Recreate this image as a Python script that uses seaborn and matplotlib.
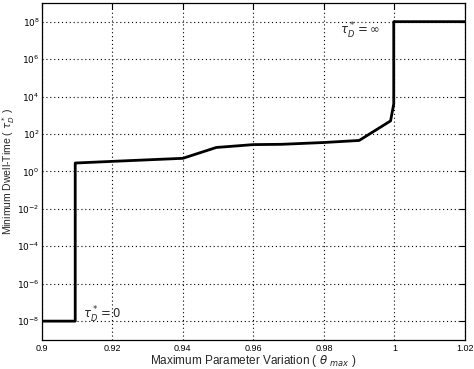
import matplotlib
matplotlib.use("Agg")
import matplotlib.pyplot as plt
import seaborn as sns
import numpy as np
import pandas as pd
from matplotlib.ticker import FixedLocator, NullLocator, FuncFormatter

theta_max = [0.9, 0.9095, 0.9095, 0.921, 0.94, 0.9495, 0.96, 0.968, 0.98, 0.99, 0.9989, 0.9998, 0.9998, 1.02]
min_dwell = [1e-8, 1e-8, 2.8, 3.5, 5.0, 19.0, 27.0, 28.0, 35.0, 45.0, 500.0, 4000.0, 1e8, 1e8]
x_ticks = [0.9, 0.92, 0.94, 0.96, 0.98, 1.0, 1.02]
x_tick_labels = ["0.9", "0.92", "0.94", "0.96", "0.98", "1", "1.02"]
y_exponents = [-8, -6, -4, -2, 0, 2, 4, 6, 8]

sns.set_theme(style="white")
plt.rcParams['font.family'] = ['Liberation Sans', 'DejaVu Sans']
plt.rcParams['mathtext.fontset'] = 'dejavusans'

df = pd.DataFrame({"theta": theta_max, "tau": min_dwell})

fig = plt.figure(figsize=(4.74, 3.69), dpi=100)
ax = fig.add_axes([0.088, 0.079, 0.893, 0.913])
sns.lineplot(data=df, x="theta", y="tau", sort=False, estimator=None,
             color="black", linewidth=2.0, ax=ax)
ax.set_yscale("log")
ax.set_xlim(0.9, 1.02)
ax.set_ylim(10**-9, 10**9)

ax.xaxis.set_major_locator(FixedLocator(x_ticks))
ax.set_xticklabels(x_tick_labels)
ax.yaxis.set_major_locator(FixedLocator([10.0**e for e in y_exponents]))
ax.yaxis.set_minor_locator(NullLocator())
ax.yaxis.set_major_formatter(FuncFormatter(lambda v, p: r"$10^{%d}$" % int(round(np.log10(v)))))

ax.grid(True, which="major", linestyle=(0, (1, 2.5)), color="black", linewidth=0.8)
for s in ax.spines.values():
    s.set_color("black")
    s.set_linewidth(0.9)
ax.tick_params(axis="both", direction="in", top=True, right=True, length=4, width=0.8,
               labelsize=6.5, colors="black")
ax.tick_params(axis="x", pad=3)
ax.tick_params(axis="y", pad=1.5)

ax.set_xlabel(r"Maximum Parameter Variation ( $\theta$ $_{max}$ )", fontsize=8.5, labelpad=0)
ax.set_ylabel(r"Minimum Dwell-Time ( $\tau^*_D$ )", fontsize=7.5)
ax.yaxis.set_label_coords(-0.058, 0.5)

ax.text(0.9845, 10**7.3, r"$\tau^*_D = \infty$", fontsize=8.5)
ax.text(0.9118, 10**-7.85, r"$\tau^*_D = 0$", fontsize=8.5)

fig.savefig("out.png", dpi=100)
